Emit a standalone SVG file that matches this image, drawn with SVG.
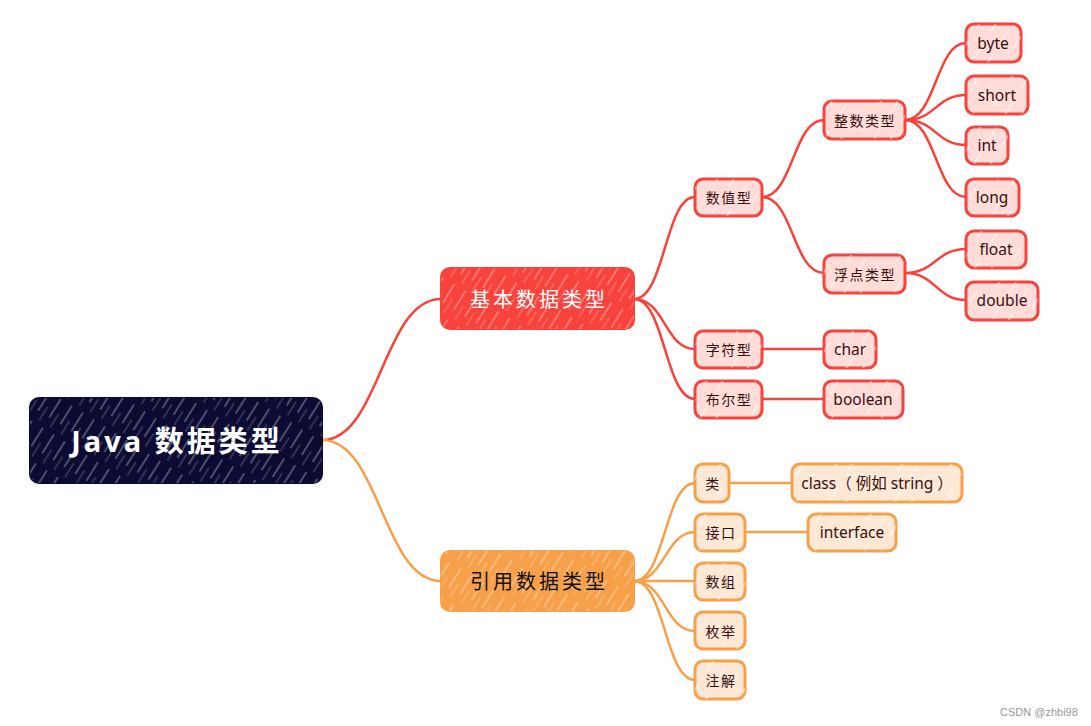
<svg xmlns="http://www.w3.org/2000/svg" width="1091" height="726" viewBox="0 0 1091 726">
<defs>
<pattern id="hatch" width="13" height="34" patternUnits="userSpaceOnUse" patternTransform="rotate(32)">
<line x1="3" y1="0" x2="3" y2="22" stroke="#ffffff" stroke-width="1.1" stroke-opacity="0.5"/>
<line x1="9" y1="14" x2="9" y2="30" stroke="#ffffff" stroke-width="0.9" stroke-opacity="0.35"/>
</pattern>
<pattern id="hatchL" width="14" height="30" patternUnits="userSpaceOnUse" patternTransform="rotate(32)">
<line x1="3" y1="0" x2="3" y2="14" stroke="#ffffff" stroke-width="1.2" stroke-opacity="0.7"/>
</pattern>
</defs>
<style>
.bg{fill:#ffffff}
.root{fill:#0b0b33;stroke:#0b0b33;stroke-width:2}
.mr{fill:#f7433b;stroke:#f7433b;stroke-width:2}
.mo{fill:#f7a04a;stroke:#f7a04a;stroke-width:2}
.sr{fill:#ffdcd8;stroke:#f7433b;stroke-width:3}
.so{fill:#fde8d6;stroke:#f7a04a;stroke-width:3}
.h{fill:url(#hatch);stroke:none}
.hl{fill:url(#hatchL);stroke:none}
.cr{fill:none;stroke:#f7433b;stroke-width:2.5;stroke-linecap:round}
.co{fill:none;stroke:#f7a04a;stroke-width:2.5;stroke-linecap:round}
text{font-family:"Noto Sans","Noto Sans CJK SC",sans-serif;dominant-baseline:central;text-anchor:middle}
.tr{font-size:29px;font-weight:bold;fill:#ffffff;letter-spacing:3px}
.tm{font-size:20px;letter-spacing:3px}
.ts{font-size:14px;fill:#3a0f0f;letter-spacing:1.5px}
.tl{font-size:15.5px;fill:#3a0f0f}
.wm{font-family:"Liberation Sans",Arial,sans-serif;font-size:11px;fill:#999999;text-anchor:start}
</style>
<rect class="bg" x="0" y="0" width="1091" height="726"/>
<g id="connectors">
<path class="cr" d="M322 440 C380 440 383 299 441 299"/>
<path class="co" d="M322 440 C380 440 383 581 441 581"/>
<path class="cr" d="M634 299 C665 299 665 197 695 197"/>
<path class="cr" d="M634 299 C665 299 665 349 695 349"/>
<path class="cr" d="M634 299 C665 299 665 399 695 399"/>
<path class="cr" d="M762 197 C793 197 793 120 824 120"/>
<path class="cr" d="M762 197 C793 197 793 273 824 273"/>
<path class="cr" d="M762 349 L824 349"/>
<path class="cr" d="M762 399 L824 399"/>
<path class="cr" d="M905 120 C936 120 936 43 966 43"/>
<path class="cr" d="M905 120 C936 120 936 95 966 95"/>
<path class="cr" d="M905 120 C936 120 936 145 966 145"/>
<path class="cr" d="M905 120 C936 120 936 197 966 197"/>
<path class="cr" d="M905 273 C936 273 936 249 966 249"/>
<path class="cr" d="M905 273 C936 273 936 300 966 300"/>
<path class="co" d="M634 581 C665 581 665 483 695 483"/>
<path class="co" d="M634 581 C665 581 665 532 695 532"/>
<path class="co" d="M634 581 L695 581"/>
<path class="co" d="M634 581 C665 581 665 631 695 631"/>
<path class="co" d="M634 581 C665 581 665 680 695 680"/>
<path class="co" d="M729 483 L792 483"/>
<path class="co" d="M745 532 L808 532"/>
</g>
<g id="root"><rect class="root" x="30" y="398" width="292" height="85" rx="9"/><rect class="h" x="30" y="398" width="292" height="85" rx="9"/><text class="tr" x="177" y="440">Java 数据类型</text></g>
<g id="basic"><rect class="mr" x="441" y="268" width="193" height="61" rx="9"/><rect class="h" x="441" y="268" width="193" height="61" rx="9"/><text class="tm" x="539" y="299" fill="#ffffff">基本数据类型</text></g>
<g id="ref"><rect class="mo" x="441" y="551" width="193" height="60" rx="9"/><rect class="h" x="441" y="551" width="193" height="60" rx="9"/><text class="tm" x="539" y="581" fill="#111111">引用数据类型</text></g>

<g id="n-shuzhi"><rect class="sr" x="695" y="179" width="67" height="37" rx="8"/><rect class="hl" x="695" y="179" width="67" height="37" rx="8"/><text class="ts" x="729" y="197">数值型</text></g>
<g id="n-zifu"><rect class="sr" x="695" y="331" width="67" height="37" rx="8"/><rect class="hl" x="695" y="331" width="67" height="37" rx="8"/><text class="ts" x="729" y="349">字符型</text></g>
<g id="n-buer"><rect class="sr" x="695" y="381" width="67" height="37" rx="8"/><rect class="hl" x="695" y="381" width="67" height="37" rx="8"/><text class="ts" x="729" y="399">布尔型</text></g>
<g id="n-zhengshu"><rect class="sr" x="824" y="101" width="81" height="38" rx="8"/><rect class="hl" x="824" y="101" width="81" height="38" rx="8"/><text class="ts" x="865" y="120">整数类型</text></g>
<g id="n-fudian"><rect class="sr" x="824" y="255" width="81" height="38" rx="8"/><rect class="hl" x="824" y="255" width="81" height="38" rx="8"/><text class="ts" x="865" y="274">浮点类型</text></g>
<g id="n-char"><rect class="sr" x="824" y="331" width="52" height="37" rx="8"/><rect class="hl" x="824" y="331" width="52" height="37" rx="8"/><text class="tl" x="850" y="349">char</text></g>
<g id="n-boolean"><rect class="sr" x="824" y="381" width="79" height="37" rx="8"/><rect class="hl" x="824" y="381" width="79" height="37" rx="8"/><text class="tl" x="863" y="399">boolean</text></g>
<g id="n-byte"><rect class="sr" x="966" y="24" width="55" height="38" rx="8"/><rect class="hl" x="966" y="24" width="55" height="38" rx="8"/><text class="tl" x="993" y="43">byte</text></g>
<g id="n-short"><rect class="sr" x="966" y="76" width="62" height="38" rx="8"/><rect class="hl" x="966" y="76" width="62" height="38" rx="8"/><text class="tl" x="997" y="95">short</text></g>
<g id="n-int"><rect class="sr" x="966" y="127" width="42" height="37" rx="8"/><rect class="hl" x="966" y="127" width="42" height="37" rx="8"/><text class="tl" x="987" y="145">int</text></g>
<g id="n-long"><rect class="sr" x="966" y="179" width="53" height="37" rx="8"/><rect class="hl" x="966" y="179" width="53" height="37" rx="8"/><text class="tl" x="992" y="197">long</text></g>
<g id="n-float"><rect class="sr" x="966" y="231" width="60" height="37" rx="8"/><rect class="hl" x="966" y="231" width="60" height="37" rx="8"/><text class="tl" x="996" y="249">float</text></g>
<g id="n-double"><rect class="sr" x="966" y="282" width="72" height="38" rx="8"/><rect class="hl" x="966" y="282" width="72" height="38" rx="8"/><text class="tl" x="1002" y="300">double</text></g>

<g id="n-lei"><rect class="so" x="695" y="464" width="34" height="38" rx="8"/><rect class="hl" x="695" y="464" width="34" height="38" rx="8"/><text class="ts" x="713" y="483">类</text></g>
<g id="n-jiekou"><rect class="so" x="695" y="514" width="50" height="37" rx="8"/><rect class="hl" x="695" y="514" width="50" height="37" rx="8"/><text class="ts" x="721" y="532">接口</text></g>
<g id="n-shuzu"><rect class="so" x="695" y="563" width="50" height="37" rx="8"/><rect class="hl" x="695" y="563" width="50" height="37" rx="8"/><text class="ts" x="721" y="581">数组</text></g>
<g id="n-meiju"><rect class="so" x="695" y="612" width="50" height="37" rx="8"/><rect class="hl" x="695" y="612" width="50" height="37" rx="8"/><text class="ts" x="721" y="631">枚举</text></g>
<g id="n-zhujie"><rect class="so" x="695" y="661" width="50" height="38" rx="8"/><rect class="hl" x="695" y="661" width="50" height="38" rx="8"/><text class="ts" x="721" y="680">注解</text></g>
<g id="n-class"><rect class="so" x="792" y="464" width="170" height="38" rx="8"/><rect class="hl" x="792" y="464" width="170" height="38" rx="8"/><text class="tl" x="877" y="483">class（ 例如 string ）</text></g>
<g id="n-interface"><rect class="so" x="808" y="514" width="88" height="37" rx="8"/><rect class="hl" x="808" y="514" width="88" height="37" rx="8"/><text class="tl" x="852" y="532">interface</text></g>

<text class="wm" x="1000" y="712">CSDN @zhbi98</text>
</svg>
